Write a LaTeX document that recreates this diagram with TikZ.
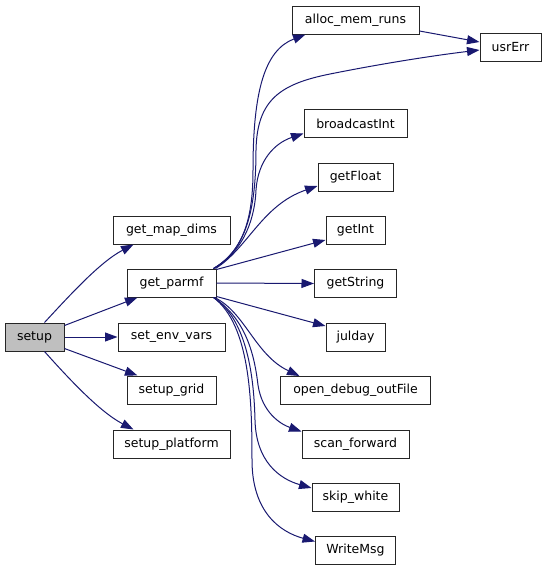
\documentclass[tikz,border=0pt]{standalone}
\usepackage{fontspec}
\setmainfont{DejaVu Sans}
\usetikzlibrary{arrows.meta}
\definecolor{edgeblue}{HTML}{191970}
\definecolor{rootgray}{HTML}{BFBFBF}
\tikzset{
  fn/.style={draw=black!85, line width=1pt, fill=white, minimum height=28pt, inner sep=0pt, font=\fontsize{12.5}{14}\selectfont},
  root/.style={fn, fill=rootgray},
  call/.style={draw=edgeblue, line width=1pt, -{Triangle[length=12.5pt,width=9pt]}},
}
\begin{document}
\begin{tikzpicture}[x=1pt,y=-1pt]
\useasboundingbox (0,0) rectangle (547,571);
% left column
\node[root, minimum width=59pt] (setup) at (34.5,337) {setup};
\node[fn, minimum width=117pt] (gmd) at (171.5,230) {get\_map\_dims};
\node[fn, minimum width=89pt] (gp) at (171.5,283) {get\_parmf};
\node[fn, minimum width=107pt] (sev) at (171.5,337) {set\_env\_vars};
\node[fn, minimum width=89pt] (sg) at (171.5,390) {setup\_grid};
\node[fn, minimum width=117pt] (sp) at (171.5,444) {setup\_platform};
% right column
\node[fn, minimum width=127pt] (amr) at (355.5,20) {alloc\_mem\_runs};
\node[fn, minimum width=61pt] (ue) at (510.5,47) {usrErr};
\node[fn, minimum width=103pt] (bi) at (355.5,123.5) {broadcastInt};
\node[fn, minimum width=75pt] (gf) at (355.5,177) {getFloat};
\node[fn, minimum width=59pt] (gi) at (355.5,230) {getInt};
\node[fn, minimum width=82pt] (gs) at (355.5,283.5) {getString};
\node[fn, minimum width=59pt] (jd) at (355.5,337) {julday};
\node[fn, minimum width=150pt] (odo) at (355.5,390.5) {open\_debug\_outFile};
\node[fn, minimum width=107pt] (sf) at (355.5,444) {scan\_forward};
\node[fn, minimum width=87pt] (sw) at (355.5,497) {skip\_white};
\node[fn, minimum width=80pt] (wm) at (355.5,550.5) {WriteMsg};
% setup edges
\draw[call] ([xshift=10pt]setup.north) .. controls (70,295) and (100,262) .. ([xshift=-38pt]gmd.south);
\draw[call] ([yshift=-3pt]setup.north east) -- ([xshift=-34pt]gp.south);
\draw[call] (setup.east) -- (sev.west);
\draw[call] ([yshift=3pt]setup.south east) -- ([xshift=-34pt]sg.north);
\draw[call] ([xshift=10pt]setup.south) .. controls (70,380) and (100,412) .. ([xshift=-38pt]sp.north);
% get_parmf edges
\draw[call] ([xshift=-3pt]gp.north east) .. controls (245,250) and (253,215) .. (253,170) .. controls (253,90) and (265,50) .. ([xshift=-50pt]amr.south);
\draw[call] ([yshift=-11pt]amr.east) -- ([yshift=5pt]ue.west);
\draw[call] ([xshift=-3pt]gp.north east) .. controls (246,250) and (256,210) .. (256,150) .. controls (257,100) and (280,84) .. (330,74) .. controls (380,64) and (430,56) .. ([yshift=-3pt]ue.west);
\draw[call] ([xshift=-3pt]gp.north east) .. controls (246,250) and (255,215) .. (256,190) .. controls (258,160) and (275,143) .. ([yshift=-10pt]bi.west);
\draw[call] ([xshift=-1pt]gp.north east) .. controls (248,248) and (262,205) .. ([yshift=-9pt]gf.west);
\draw[call] ([yshift=-1pt]gp.north east) -- ([yshift=-10pt]gi.west);
\draw[call] (gp.east) -- (gs.west);
\draw[call] ([yshift=1pt]gp.south east) -- ([yshift=11pt]jd.west);
\draw[call] ([xshift=-2pt]gp.south east) .. controls (245,312) and (255,355) .. ([xshift=-56pt]odo.north);
\draw[call] ([xshift=-3pt]gp.south east) .. controls (248,320) and (255,360) .. (258,385) .. controls (262,412) and (280,424) .. ([yshift=-2pt]sf.north west);
\draw[call] ([xshift=-3pt]gp.south east) .. controls (248,320) and (254,380) .. (255,420) .. controls (256,462) and (280,479) .. ([yshift=9pt]sw.west);
\draw[call] ([xshift=-3pt]gp.south east) .. controls (250,325) and (252,400) .. (252,460) .. controls (252,512) and (280,532) .. ([yshift=9pt]wm.west);
\end{tikzpicture}
\end{document}
